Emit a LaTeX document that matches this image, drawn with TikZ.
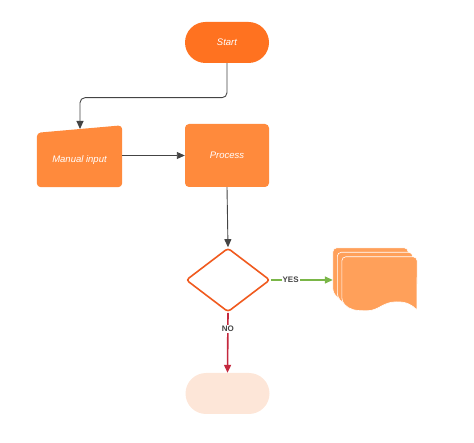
\documentclass[tikz,border=0pt]{standalone}
\usepackage{fontspec}
\setmainfont{Liberation Sans}
\usepackage{tikz}
\usetikzlibrary{arrows.meta,shapes.geometric}

\definecolor{startor}{HTML}{FF7220}
\definecolor{boxor}{HTML}{FF8A3C}
\definecolor{docor}{HTML}{FFA05A}
\definecolor{diaor}{HTML}{F05A1E}
\definecolor{endor}{HTML}{FDE6D8}
\definecolor{yesgr}{HTML}{7AB648}
\definecolor{nored}{HTML}{C4283E}
\definecolor{linegr}{HTML}{444444}

\begin{document}
\begin{tikzpicture}[
    x=1pt, y=-1pt,
    every node/.style={inner sep=0pt},
    lbl/.style={text=white, font=\fontsize{9.5}{11}\selectfont\itshape},
    term/.style={minimum width=84pt, minimum height=41pt, rounded corners=20.5pt},
    tag/.style={fill=white, text=linegr, inner sep=1pt, font=\fontsize{8}{9}\selectfont\bfseries},
    arr/.style={-{Triangle[length=8pt,width=7pt]}, line width=0.9pt}
]
    \useasboundingbox (0,0) rectangle (474,443);

    % 1. Define the nodes
    \node[term, fill=startor, lbl] (S) at (227,42.5) {Start};
    \node[minimum width=85pt, minimum height=62pt] (M) at (79.5,156) {};
    \node[minimum width=84pt, minimum height=63pt, rounded corners=4pt, fill=boxor, lbl] (P) at (227,155.5) {Process};
    \node[diamond, draw=diaor, line width=1.6pt, fill=white, rounded corners=3pt,
          minimum width=84pt, minimum height=64pt] (D) at (228,280) {};
    \node[minimum width=84pt, minimum height=64pt] (Doc) at (375,280) {};
    \node[term, fill=endor] (E) at (227.5,393.5) {};
    \coordinate (Min) at (80,129);

    % Manual input shape (slanted top)
    \fill[boxor, rounded corners=4pt] (M.south west) -- ([yshift=-8pt]M.north west)
        -- ([yshift=-0.5pt]M.north east) -- (M.south east) -- cycle;
    \node[lbl] at (79.5,160) {Manual input};

    % Stacked documents (back to front)
    \foreach \k in {0, 4.5, 9} {
        \fill[docor, draw=white, line width=0.6pt]
            ([xshift=\k pt-9pt, yshift=-\k pt]Doc.north east)
            [rounded corners=4pt] -- ([xshift=\k pt, yshift=-\k pt]Doc.north west)
            -- ++(0,45) [sharp corners]
            .. controls +(8,8) and +(-12,0) .. ++(25,9)
            .. controls +(12,0) and +(-14,0) .. ++(30,-9)
            .. controls +(10,0) and +(-5,-5) .. ++(20,8)
            [rounded corners=4pt] -- cycle;
    }

    % 2. Draw the arrows

    % Start -> Manual input (elbow)
    \draw[arr, linegr, rounded corners=5pt] (S.south) -- ++(0,34.5) -| (Min);

    % Manual input -> Process
    \draw[arr, linegr] (M.east |- P) -- (P.west);

    % Process -> Decision
    \draw[arr, linegr] (P.south) -- (D.north);

    % Decision -> Documents (YES)
    \draw[arr, yesgr, line width=1.4pt] (D.east) -- (Doc.west) node[tag, pos=0.32] {YES};

    % Decision -> End (NO)
    \draw[arr, nored, line width=1.6pt] (D.south) -- (E.north) node[tag, pos=0.27] {NO};

\end{tikzpicture}
\end{document}
